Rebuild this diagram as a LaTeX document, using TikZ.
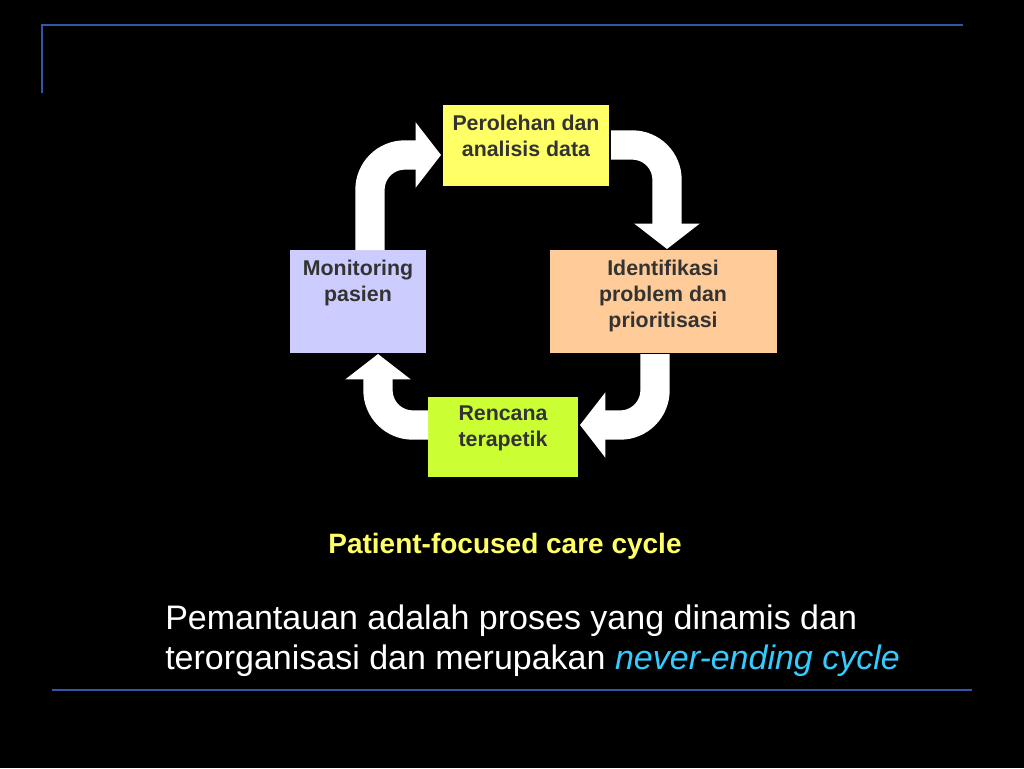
\documentclass[tikz,border=0pt]{standalone}
\usepackage{fontspec}
\setmainfont{Liberation Sans}
\usetikzlibrary{arrows.meta}
\definecolor{lineblue}{HTML}{3355AA}
\definecolor{boxtext}{HTML}{333333}
\definecolor{capyellow}{HTML}{FFFF66}
\definecolor{cyanx}{HTML}{33CCFF}
\tikzset{
 box/.style={draw=none,anchor=north west,inner sep=0pt,align=center,font=\bfseries\fontsize{16}{19.5}\selectfont,text=boxtext},
 cyc/.style={draw=white,line width=22pt,-{Triangle[width=48pt,length=19pt]},rounded corners=26pt}
}
\begin{document}
\begin{tikzpicture}[x=0.75pt,y=-0.75pt]
\fill[black] (0,0) rectangle (1024,768);
\useasboundingbox (0,0) rectangle (1024,768);
\draw[lineblue,line width=1.5pt] (42,93) -- (42,25) -- (963,25);
\draw[lineblue,line width=1.5pt] (52,690) -- (972,690);
% boxes
\fill[capyellow] (443,105) rectangle (609,186);
\fill[fill={rgb,255:red,255;green,204;blue,153}] (550,250) rectangle (777,353);
\fill[fill={rgb,255:red,204;green,255;blue,51}] (428,397) rectangle (578,477);
\fill[fill={rgb,255:red,204;green,204;blue,255}] (290,250) rectangle (426,353);
\node[box,anchor=north] (p) at (526,115) {Perolehan dan\\analisis data};
\node[box,anchor=north] (i) at (663,260) {Identifikasi\\problem dan\\prioritisasi};
\node[box,anchor=north] (r) at (503,406) {Rencana\\terapetik};
\node[box,anchor=north] (m) at (358,260) {Monitoring\\pasien};
\coordinate (m1) at (370,250); \coordinate (p1) at (441,155);
\coordinate (p2) at (611,145); \coordinate (i1) at (667,249);
\coordinate (i2) at (655,354); \coordinate (r1) at (580,425);
\coordinate (r2) at (428,425); \coordinate (m2) at (378,354);
\draw[cyc] (m1) -- (370,155) -- (p1);
\draw[cyc] (p2) -- (667,145) -- (i1);
\draw[cyc] (i2) -- (655,425) -- (r1);
\draw[cyc] (r2) -- (378,425) -- (m2);
\node[font=\bfseries\fontsize{21}{24}\selectfont,text=capyellow] (cap) at (505,546) {Patient-focused care cycle};
\node[anchor=north west,align=left,inner sep=0pt,text=white,font=\fontsize{25.5}{30}\selectfont] (body) at (165,605)
 {Pemantauan adalah proses yang dinamis dan\\terorganisasi dan merupakan \textcolor{cyanx}{\itshape never-ending cycle}};
\end{tikzpicture}
\end{document}
